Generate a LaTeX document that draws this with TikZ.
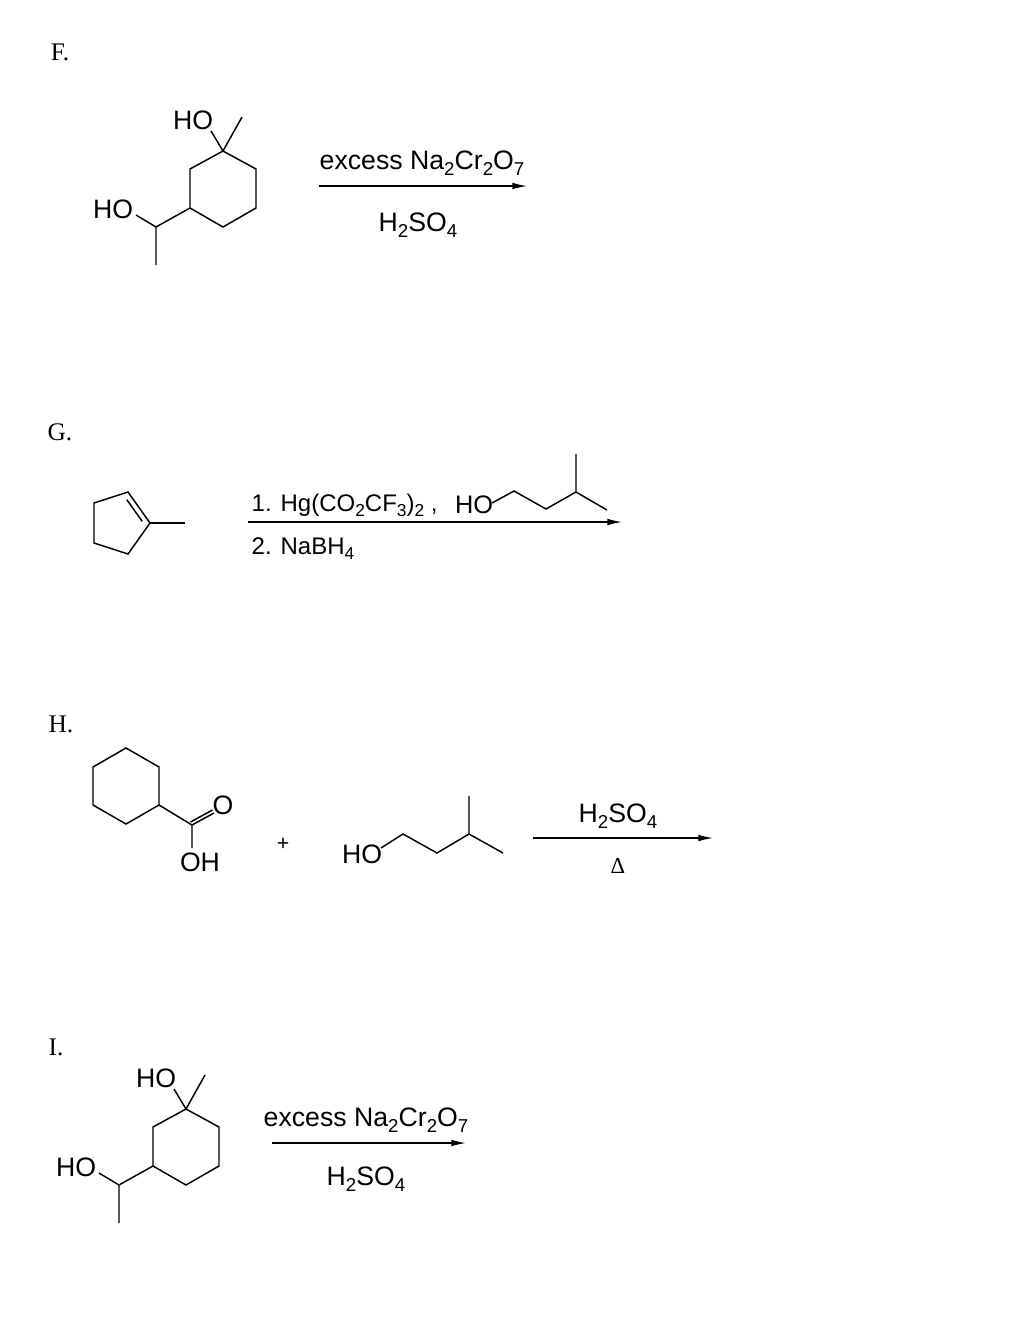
\documentclass[tikz,border=0pt]{standalone}
\usepackage{fontspec}
\setmainfont{Liberation Sans}
\newfontfamily\serif{Liberation Serif}
\usetikzlibrary{arrows.meta,calc}
\newcommand{\sbs}[1]{\raisebox{-0.4ex}{\fontsize{14}{14}\selectfont #1}}
\newcommand{\sbg}[1]{\raisebox{-0.4ex}{\fontsize{13}{13}\selectfont #1}}
\begin{document}
\begin{tikzpicture}[x=0.75pt,y=-0.75pt,line width=1.1pt,
  lbl/.style={inner sep=0pt,font=\fontsize{20}{20}\selectfont},
  let/.style={inner sep=0pt,font=\serif\fontsize{19}{19}\selectfont},
  rxn/.style={line width=1pt,-{Latex[length=11pt,width=5pt]}}]
\useasboundingbox (0,0) rectangle (1011,1322);
\node[let] (lF) at (60,52) {F.};
\node[let] (lG) at (60,432) {G.};
\node[let] (lH) at (61,724) {H.};
\node[let] (lI) at (56,1047) {I.};
% F and I molecules
\foreach \dx/\dy/\nm in {0/0/f, -37/958/i}{
\begin{scope}[shift={(\dx,\dy)}]
\coordinate (\nm1) at (223,151);
\coordinate (\nm2) at (256,169);
\coordinate (\nm3) at (256,208);
\coordinate (\nm4) at (223,227);
\coordinate (\nm5) at (190,208);
\coordinate (\nm6) at (190,169);
\draw (\nm1)--(\nm2)--(\nm3)--(\nm4)--(\nm5)--(\nm6)--cycle;
\coordinate (\nm me) at (242,117);
\draw (\nm1)--(\nm me);
\node[lbl] (\nm ho1) at (193,120) {HO};
\draw (\nm1)--(211,131);
\coordinate (\nm ch) at (156,227);
\draw (\nm5)--(\nm ch)--(156,265);
\draw (\nm ch)--(136,215);
\node[lbl] (\nm ho2) at (113,209) {HO};
\end{scope}}
\coordinate (fa1) at (319,186); \coordinate (fa2) at (527,186);
\draw[rxn] (fa1)--(fa2);
\node[lbl] (ft1) at (422,163) {excess Na\sbs{2}Cr\sbs{2}O\sbs{7}};
\node[lbl] (ft2) at (418,225) {H\sbs{2}SO\sbs{4}};
\coordinate (ia1) at (272,1143); \coordinate (ia2) at (466,1143);
\draw[rxn] (ia1)--(ia2);
\node[lbl] (it1) at (366,1120) {excess Na\sbs{2}Cr\sbs{2}O\sbs{7}};
\node[lbl] (it2) at (366,1179) {H\sbs{2}SO\sbs{4}};
% G
\coordinate (g1) at (128,492); \coordinate (g2) at (150,523);
\coordinate (g3) at (128,554); \coordinate (g4) at (94,543); \coordinate (g5) at (94,503);
\draw (g1)--(g2)--(g3)--(g4)--(g5)--cycle;
\draw ($(g1)!0.15!(g2)+(-4.5,3)$) -- ($(g1)!0.85!(g2)+(-4.5,3)$);
\draw (g2)--(185,523);
\coordinate (ga1) at (248,522); \coordinate (ga2) at (622,522);
\draw[rxn] (ga1)--(ga2);
\node[lbl,anchor=west,font=\fontsize{18}{18}\selectfont] (gt1) at (251,505) {1. Hg(CO\sbg{2}CF\sbg{3})\sbg{2} ,};
\node[lbl,font=\fontsize{19}{19}\selectfont] (gho) at (474,505) {HO};
\draw (492,503)--(514,491)--(546,509)--(576,492)--(576,454);
\draw (576,492)--(607,510);
\node[lbl,anchor=west,font=\fontsize{18}{18}\selectfont] (gt2) at (251,549) {2. NaBH\sbg{4}};
% H
\coordinate (h1) at (126,748); \coordinate (h2) at (159,767); \coordinate (h3) at (159,805);
\coordinate (h4) at (126,824); \coordinate (h5) at (93,805); \coordinate (h6) at (93,767);
\draw (h1)--(h2)--(h3)--(h4)--(h5)--(h6)--cycle;
\coordinate (hc) at (192,825);
\draw (h3)--(hc)--(192,848);
\draw (hc)--(214,813);
\draw ($(hc)+(-1.5,-3)$)--($(214,813)+(-1.5,-3)$);
\node[lbl] (ho) at (223,805) {O};
\node[lbl] (hoh) at (200,862) {OH};
\node[lbl,font=\fontsize{16}{16}\selectfont] (plus) at (283,844) {+};
\node[lbl] (hho) at (362,854) {HO};
\draw (381,848)--(403,834)--(437,853)--(469,834)--(469,796);
\draw (469,834)--(503,853);
\coordinate (ha1) at (533,838); \coordinate (ha2) at (713,838);
\draw[rxn] (ha1)--(ha2);
\node[lbl] (ht1) at (618,816) {H\sbs{2}SO\sbs{4}};
\node[lbl] (ht2) at (618,866) {\serif\fontsize{17}{17}\selectfont Δ};
\end{tikzpicture}
\end{document}
